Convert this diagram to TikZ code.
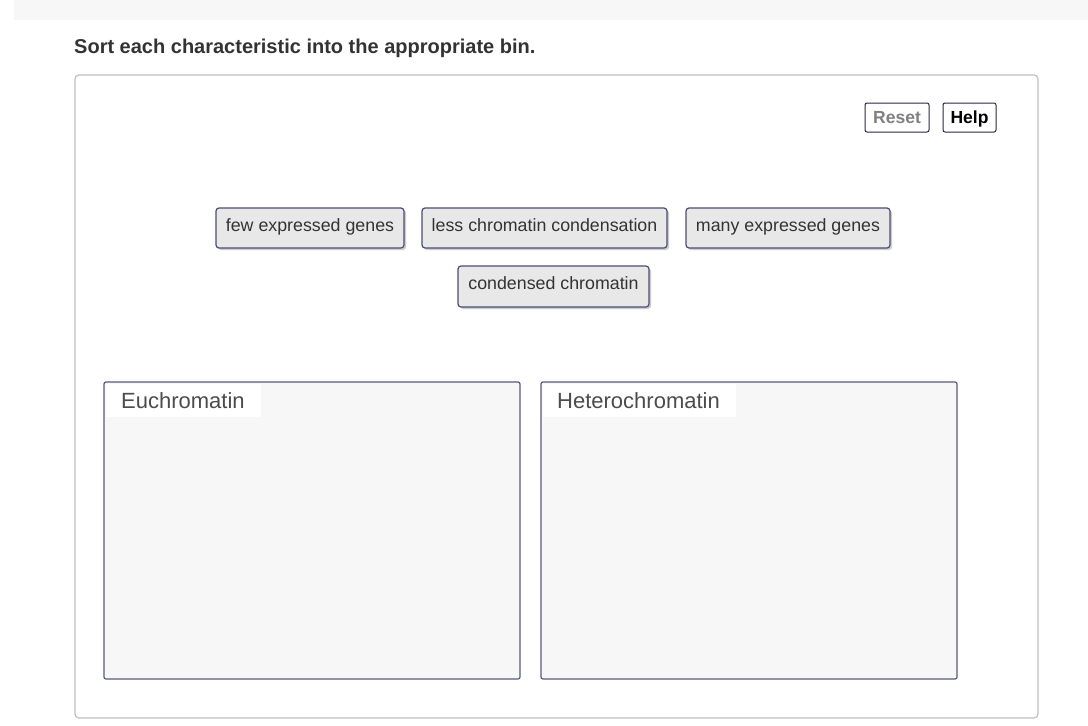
\documentclass[tikz,border=0pt]{standalone}
\usepackage{fontspec}
\setmainfont{Liberation Sans}
\usetikzlibrary{shadows}
\begin{document}
\begin{tikzpicture}[x=1pt,y=-1pt,
  chip/.style={draw=black!60!blue!40!gray,line width=1.2pt,fill=gray!18,rounded corners=3pt,drop shadow={shadow xshift=2pt,shadow yshift=-2pt,opacity=0.4}},
  bin/.style={draw=black!55!blue!30!gray,line width=1.2pt,fill=gray!6,rounded corners=2pt},
  btn/.style={draw=gray!80!blue!40!black,line width=1pt,rounded corners=2pt,fill=white},
  txt/.style={font=\fontsize{17.8}{20}\selectfont,text=black!80,text height=13pt,text depth=4pt,inner sep=0pt}]
\useasboundingbox (0,0) rectangle (1088,726);
\fill[white] (0,0) rectangle (1088,726);
\fill[gray!6] (14,0) rectangle (1088,20);
\node[anchor=west,inner sep=0pt,font=\bfseries\fontsize{20}{22}\selectfont,text=black!80] (title) at (74,48) {Sort each characteristic into the appropriate bin.};
\draw[gray!50,line width=1.2pt,rounded corners=4pt] (75,75) rectangle (1038,718);
\draw[btn] (865,103) rectangle (929,132); \node[font=\bfseries\fontsize{17.5}{19}\selectfont,text=gray,inner sep=0pt,text height=13pt,text depth=3pt] (reset) at (897,118) {Reset};
\draw[btn] (943,103) rectangle (996,132); \node[font=\bfseries\fontsize{17.5}{19}\selectfont,inner sep=0pt,text height=13pt,text depth=3pt] (help) at (969.5,118) {Help};
\draw[chip] (216,208) rectangle (404,248); \node[txt] (c1) at (310,227) {few expressed genes};
\draw[chip] (422,208) rectangle (667,248); \node[txt] (c2) at (544.5,227) {less chromatin condensation};
\draw[chip] (686,208) rectangle (890,248); \node[txt] (c3) at (788,227) {many expressed genes};
\draw[chip] (458,266) rectangle (649,307); \node[txt] (c4) at (553.5,285) {condensed chromatin};
\draw[bin] (104,382) rectangle (520,679);
\fill[white] (106,384) rectangle (261,417);
\node[anchor=west,inner sep=0pt,font=\fontsize{22}{24}\selectfont,text=black!70] (b1) at (121,401) {Euchromatin};
\draw[bin] (541,382) rectangle (957,679);
\fill[white] (543,384) rectangle (736,417);
\node[anchor=west,inner sep=0pt,font=\fontsize{22}{24}\selectfont,text=black!70] (b2) at (557,401) {Heterochromatin};
\end{tikzpicture}
\end{document}
